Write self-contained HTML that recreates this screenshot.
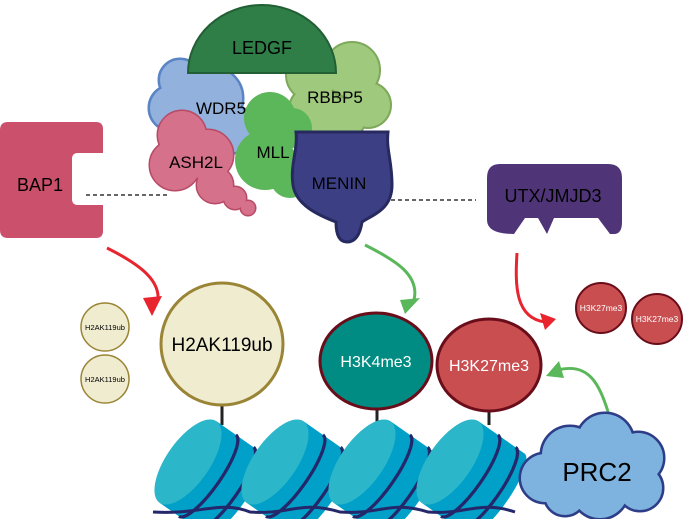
<!DOCTYPE html>
<html><head><meta charset="utf-8"><style>
html,body{margin:0;padding:0;background:#fff;width:685px;height:519px;overflow:hidden}
text{font-family:"Liberation Sans",Arial,sans-serif}
</style></head><body>
<svg width="685" height="519" viewBox="0 0 685 519" xmlns="http://www.w3.org/2000/svg">

<!-- WDR5 blob -->
<g stroke="#5a84c4" stroke-width="5"><circle cx="180" cy="80" r="20"/><circle cx="172" cy="108" r="22"/><circle cx="212" cy="98" r="30"/><circle cx="235" cy="130" r="22"/><circle cx="200" cy="140" r="20"/></g>
<g fill="#92b2dd"><circle cx="180" cy="80" r="20"/><circle cx="172" cy="108" r="22"/><circle cx="212" cy="98" r="30"/><circle cx="235" cy="130" r="22"/><circle cx="200" cy="140" r="20"/></g>

<!-- RBBP5 -->
<g stroke="#7ea85a" stroke-width="4"><circle cx="312" cy="75" r="25"/><circle cx="352" cy="70" r="27"/><circle cx="368" cy="105" r="22"/><circle cx="315" cy="110" r="25"/><circle cx="345" cy="118" r="20"/></g>
<g fill="#9fc97d"><circle cx="312" cy="75" r="25"/><circle cx="352" cy="70" r="27"/><circle cx="368" cy="105" r="22"/><circle cx="315" cy="110" r="25"/><circle cx="345" cy="118" r="20"/></g>

<!-- MLL -->
<g fill="#5cb65a"><circle cx="270" cy="118" r="26"/><circle cx="265" cy="160" r="30"/><circle cx="290" cy="178" r="20"/><circle cx="292" cy="128" r="20"/></g>

<!-- ASH2L -->
<g stroke="#b84a66" stroke-width="3"><circle cx="182" cy="135" r="24"/><circle cx="175" cy="165" r="25"/><circle cx="208" cy="155" r="25"/><circle cx="215" cy="185" r="18"/><circle cx="235" cy="198" r="11"/><circle cx="248" cy="208" r="7"/></g>
<g fill="#d5718a"><circle cx="182" cy="135" r="24"/><circle cx="175" cy="165" r="25"/><circle cx="208" cy="155" r="25"/><circle cx="215" cy="185" r="18"/><circle cx="235" cy="198" r="11"/><circle cx="248" cy="208" r="7"/></g>

<!-- MENIN -->
<path d="M296,132 L388,132 C386,150 392,160 392,185 C392,210 372,215 362,222 C360,235 355,242 347,242 C338,242 336,232 336,222 C318,215 296,205 293,185 C290,165 298,150 296,132 Z" fill="#3d3f84" stroke="#262a5e" stroke-width="3"/>

<!-- LEDGF -->
<path d="M188,73 A74,68 0 0 1 336,73 Z" fill="#2f7d47" stroke="#235f35" stroke-width="2"/>

<text x="262" y="54" font-size="18" text-anchor="middle">LEDGF</text>
<text x="221" y="114" font-size="17" text-anchor="middle">WDR5</text>
<text x="335" y="103" font-size="17" text-anchor="middle">RBBP5</text>
<text x="196" y="168" font-size="17" text-anchor="middle">ASH2L</text>
<text x="273" y="158" font-size="17" text-anchor="middle">MLL</text>
<text x="339" y="189" font-size="17" text-anchor="middle">MENIN</text>

<!-- BAP1 -->
<path d="M8,122 H96 Q103,122 103,129 V153 H78 Q72,153 72,159 V199 Q72,205 78,205 H103 V231 Q103,238 96,238 H8 Q0,238 0,230 V130 Q0,122 8,122 Z" fill="#cb506c"/>
<text x="40" y="191" font-size="18" text-anchor="middle">BAP1</text>
<line x1="86" y1="195" x2="167" y2="195" stroke="#333" stroke-width="1.5" stroke-dasharray="4,3"/>
<line x1="391" y1="200" x2="476" y2="200" stroke="#333" stroke-width="1.5" stroke-dasharray="4,3"/>

<!-- UTX -->
<path d="M500,164 H608 Q622,164 622,178 V222 Q622,234 614,234 L610,234 L598,218 L590,218 L558,218 L554,218 L547,234 L538,218 L525,218 L514,234 Q487,234 487,220 V178 Q487,164 500,164 Z" fill="#4f3578"/>
<text x="553" y="202" font-size="18" text-anchor="middle">UTX/JMJD3</text>

<!-- arrows -->
<path d="M107,248 C135,262 160,278 158,300" fill="none" stroke="#e8242f" stroke-width="3"/>
<path d="M143,298 L162,296 L152,316 Z" fill="#e8242f"/>
<path d="M365,245 C395,260 420,275 414,300" fill="none" stroke="#5bb85a" stroke-width="3"/>
<path d="M400,300 L420,298 L405,314 Z" fill="#5bb85a"/>
<path d="M517,253 C515,285 515,318 545,322" fill="none" stroke="#e8242f" stroke-width="3"/>
<path d="M540,313 L556,319 L545,330 Z" fill="#e8242f"/>
<path d="M610,418 C600,385 590,362 558,370" fill="none" stroke="#5bb85a" stroke-width="3"/>
<path d="M559,361 L546,376 L564,378 Z" fill="#5bb85a"/>

<!-- small H2AK -->
<circle cx="105" cy="327" r="24" fill="#efeccf" stroke="#9a8436" stroke-width="1.5"/>
<circle cx="105" cy="379" r="24" fill="#efeccf" stroke="#9a8436" stroke-width="1.5"/>
<text x="105" y="330" font-size="7.5" text-anchor="middle">H2AK119ub</text>
<text x="105" y="382" font-size="7.5" text-anchor="middle">H2AK119ub</text>

<!-- stems -->
<g stroke="#222" stroke-width="3"><line x1="222" y1="405" x2="222" y2="425"/><line x1="377" y1="408" x2="377" y2="425"/><line x1="489" y1="410" x2="489" y2="425"/></g>

<circle cx="222" cy="344" r="61" fill="#efecd0" stroke="#9a8436" stroke-width="3"/>
<text x="222" y="351" font-size="19" text-anchor="middle">H2AK119ub</text>
<ellipse cx="376" cy="361" rx="56" ry="48" fill="#008c82" stroke="#6a0d1a" stroke-width="3"/>
<text x="376" y="367" font-size="16" fill="#fff" text-anchor="middle">H3K4me3</text>
<ellipse cx="489" cy="365" rx="52" ry="46" fill="#c84e50" stroke="#6a0d1a" stroke-width="3"/>
<text x="489" y="371" font-size="16" fill="#fff" text-anchor="middle">H3K27me3</text>
<circle cx="601" cy="308" r="25" fill="#c84e50" stroke="#6a0d1a" stroke-width="2"/>
<circle cx="657" cy="319" r="25" fill="#c84e50" stroke="#6a0d1a" stroke-width="2"/>
<text x="601" y="311" font-size="8.5" fill="#fff" text-anchor="middle">H3K27me3</text>
<text x="657" y="322" font-size="8.5" fill="#fff" text-anchor="middle">H3K27me3</text>

<!-- nucleosomes -->
<g id="n1" transform="translate(188,462) rotate(35) scale(1.08)">
<rect x="0" y="-46" width="52" height="92" fill="#00a0c8"/>
<ellipse cx="52" cy="0" rx="12" ry="46" fill="#00a0c8"/>
<ellipse cx="0" cy="0" rx="20" ry="46" fill="#2bb6c9"/>
<path d="M22,-46 A12,46 0 0 1 22,46" fill="none" stroke="#24276a" stroke-width="3"/>
<path d="M42,-46 A12,46 0 0 1 42,46" fill="none" stroke="#24276a" stroke-width="3"/>
</g>
<use href="#n1" x="87"/>
<use href="#n1" x="174"/>
<use href="#n1" x="262"/>
<path d="M153,512 C200,515 220,500 250,512 C290,515 300,500 340,512 C380,515 390,500 428,512 C465,515 480,500 515,512" fill="none" stroke="#24276a" stroke-width="3"/>

<!-- PRC2 -->
<g stroke="#2e3d88" stroke-width="5"><circle cx="570" cy="455" r="28"/><circle cx="605" cy="442" r="28"/><circle cx="638" cy="458" r="25"/><circle cx="545" cy="478" r="24"/><circle cx="640" cy="488" r="22"/><circle cx="600" cy="490" r="28"/><circle cx="565" cy="495" r="20"/></g>
<g fill="#7db3de"><circle cx="570" cy="455" r="28"/><circle cx="605" cy="442" r="28"/><circle cx="638" cy="458" r="25"/><circle cx="545" cy="478" r="24"/><circle cx="640" cy="488" r="22"/><circle cx="600" cy="490" r="28"/><circle cx="565" cy="495" r="20"/></g>
<text x="597" y="481" font-size="26" text-anchor="middle">PRC2</text>
</svg>
</body></html>
